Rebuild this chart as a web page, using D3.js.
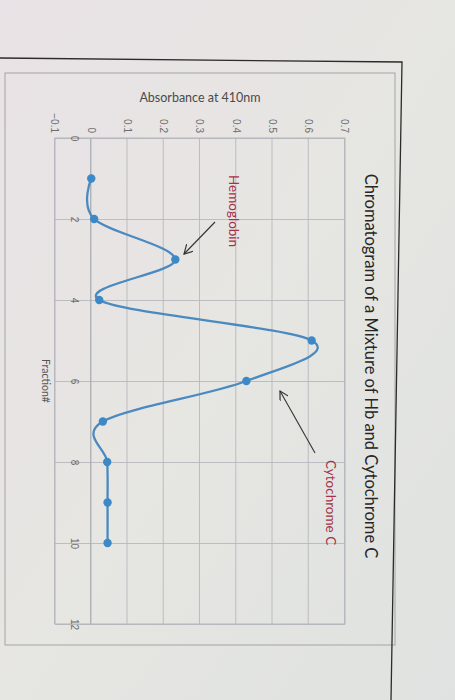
<!DOCTYPE html>
<html>
<head>
<meta charset="utf-8">
<script src="https://cdn.jsdelivr.net/npm/d3@7"></script>
<style>
html, body { margin:0; padding:0; background:#e6e3e7; }
svg { display:block; font-family: Lato, "Open Sans", sans-serif; }
</style>
</head>
<body>
<svg id="chart"></svg>
<script>
// values
var fractions  = [1, 2, 3, 4, 5, 6, 7, 8, 9, 10];
var absorbance = [0, 0.008, 0.232, 0.022, 0.608, 0.428, 0.032, 0.044, 0.045, 0.045];
var fracTicks  = [0, 2, 4, 6, 8, 10, 12];
var absTicks   = [-0.1, 0, 0.1, 0.2, 0.3, 0.4, 0.5, 0.6, 0.7];
var chartTitle = "Chromatogram of a Mixture of Hb and Cytochrome C";
var yTitle = "Absorbance at 410nm";
var xTitle = "Fraction#";
var noteHb  = "Hemoglobin";
var noteCyt = "Cytochrome C";

var W = 455, H = 700;

var svg = d3.select("#chart").attr("width", W).attr("height", H);

var defs = svg.append("defs");
var bg = defs.append("linearGradient").attr("id", "bg")
	.attr("x1", "0").attr("y1", "0").attr("x2", "1").attr("y2", "1");
bg.append("stop").attr("offset", "0").attr("stop-color", "#e9e2e6");
bg.append("stop").attr("offset", "0.5").attr("stop-color", "#e6e6e2");
bg.append("stop").attr("offset", "1").attr("stop-color", "#dfe2e0");
defs.append("marker").attr("id", "arr")
	.attr("viewBox", "0 0 10 10").attr("refX", 9).attr("refY", 5)
	.attr("markerWidth", 9).attr("markerHeight", 9).attr("orient", "auto")
	.append("path").attr("d", "M0,0 L9,5 L0,10")
	.attr("fill", "none").attr("stroke", "#333").attr("stroke-width", 1.2);

svg.append("rect").attr("width", W).attr("height", H).attr("fill", "url(#bg)");

// the chart is photographed turned a quarter turn clockwise
var g = svg.append("g").attr("transform", "translate(" + W + ",0) rotate(90)");

// chart frame (drawn in the unturned 700 x 455 frame)
g.append("rect").attr("x", 73).attr("y", 60).attr("width", 572).attr("height", 390)
	.attr("fill", "none").attr("stroke", "#a4a4a4").attr("stroke-width", 1);
g.append("polyline").attr("points", "700,64 62,53 58,455")
	.attr("fill", "none").attr("stroke", "#2b2b2b").attr("stroke-width", 1.3);

var x = d3.scaleLinear().domain([0, 12]).range([138, 624]);
var y = d3.scaleLinear().domain([-0.1, 0.7]).range([400, 110]);

// grid
g.append("g").attr("class", "grid")
	.attr("transform", "translate(0," + y(-0.1) + ")")
	.call(d3.axisBottom(x).tickValues(fracTicks).tickSize(-(y(-0.1) - y(0.7))).tickFormat(""));
g.append("g").attr("class", "grid")
	.attr("transform", "translate(" + x(0) + ",0)")
	.call(d3.axisLeft(y).tickValues(absTicks).tickSize(-(x(12) - x(0))).tickFormat(""));
g.selectAll(".grid .domain").remove();
g.selectAll(".grid line").attr("stroke", "#b6b8bd").attr("stroke-width", 0.9);
g.append("rect").attr("x", x(0)).attr("y", y(0.7))
	.attr("width", x(12) - x(0)).attr("height", y(-0.1) - y(0.7))
	.attr("fill", "none").attr("stroke", "#b0b2b8").attr("stroke-width", 0.9);

// axes
var ya = g.append("g").attr("transform", "translate(" + x(0) + ",0)")
	.call(d3.axisLeft(y).tickValues(absTicks).tickSize(0).tickPadding(5)
		.tickFormat(function(d) { return d === 0 ? "0" : d3.format(".1f")(d); }));
var xa = g.append("g").attr("transform", "translate(0," + y(0) + ")")
	.call(d3.axisBottom(x).tickValues(fracTicks).tickSize(0).tickPadding(13));
ya.select(".domain").remove();
xa.select(".domain").attr("stroke", "#a9acb2").attr("stroke-width", 1);
g.selectAll(".tick text").attr("fill", "#6d6d6d").style("font-size", "10px");

// series
var line = d3.line()
	.x(function(d, i) { return x(fractions[i]); })
	.y(function(d) { return y(d); })
	.curve(d3.curveCardinal.tension(0));

g.append("path").datum(absorbance).attr("d", line)
	.attr("fill", "none").attr("stroke", "#4a8ac0").attr("stroke-width", 2.3);
g.selectAll(".pt").data(absorbance).enter().append("circle").attr("class", "pt")
	.attr("cx", function(d, i) { return x(fractions[i]); })
	.attr("cy", function(d) { return y(d); })
	.attr("r", 4.2).attr("fill", "#3d88c6");

// titles
g.append("text").attr("x", 366).attr("y", 90).attr("text-anchor", "middle")
	.attr("fill", "#262626").style("font-size", "16.5px").text(chartTitle);
g.append("text").attr("transform", "translate(102," + ((y(-0.1) + y(0.7)) / 2) + ") rotate(-90)")
	.attr("text-anchor", "middle").attr("fill", "#4a4a4a").style("font-size", "12.5px").text(yTitle);
g.append("text").attr("x", (x(0) + x(12)) / 2).attr("y", 413).attr("text-anchor", "middle")
	.attr("fill", "#555").style("font-size", "10.5px").text(xTitle);

// annotations
g.append("text").attr("x", 175).attr("y", 226).attr("fill", "#a3324a")
	.style("font-size", "13.5px").text(noteHb);
g.append("line").attr("x1", 222).attr("y1", 240).attr("x2", 254).attr("y2", 271)
	.attr("stroke", "#333").attr("stroke-width", 1.1).attr("marker-end", "url(#arr)");
g.append("text").attr("x", 460).attr("y", 129).attr("fill", "#a3324a")
	.style("font-size", "13.5px").text(noteCyt);
g.append("line").attr("x1", 453).attr("y1", 140).attr("x2", 391).attr("y2", 175)
	.attr("stroke", "#333").attr("stroke-width", 1.1).attr("marker-end", "url(#arr)");
</script>
</body>
</html>
